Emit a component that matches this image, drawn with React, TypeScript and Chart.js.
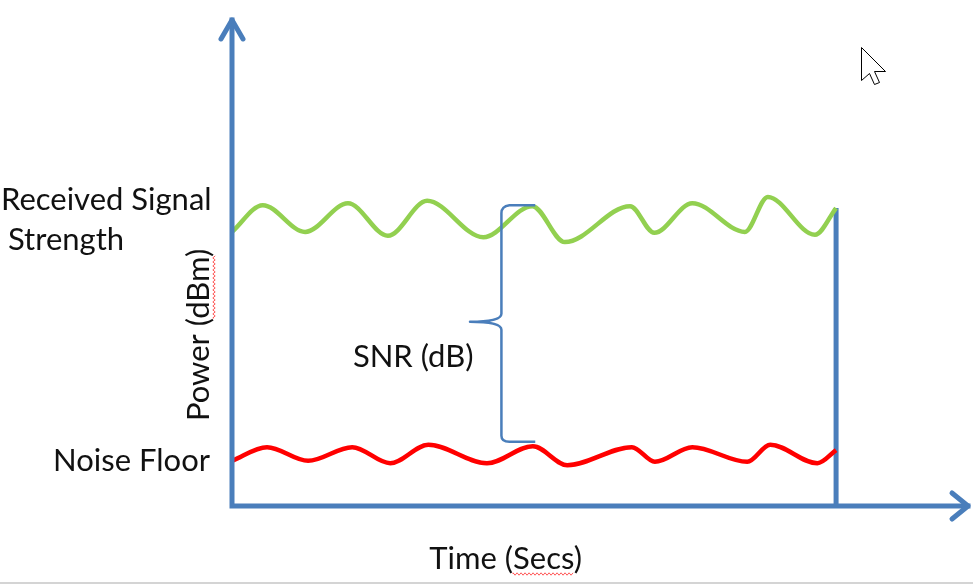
import { useEffect, useRef } from "react";
import { Chart, registerables } from "chart.js";

Chart.register(...registerables);

// Time (s) and power (arbitrary dBm scale)
const signalTime = [0, 0.51, 1.21, 1.92, 2.58, 3.23, 4.16, 4.97, 5.51, 6.59, 6.99, 7.62, 8.49, 8.87, 9.65, 10.0];
const signalPower = [56.4, 61.9, 56.4, 62.3, 55.6, 62.8, 55.3, 61.7, 54.3, 61.7, 56.2, 62.3, 56.4, 63.6, 55.8, 61.3];
const noiseTime = [0, 0.58, 1.26, 1.99, 2.62, 3.25, 4.22, 4.98, 5.55, 6.62, 7.0, 7.62, 8.53, 8.91, 9.69, 10.0];
const noisePower = [9.3, 12.1, 9.3, 12.1, 8.8, 12.6, 8.8, 12.3, 8.4, 12.1, 9.1, 12.1, 9.1, 12.6, 8.8, 11.5];
const markerTime = [10, 10];
const markerPower = [0, 61.3];

// SNR bracket (data units)
const bracketX = 4.46;
const bracketTop = 61.9;
const bracketBottom = 13.2;
const bracketMid = 37.9;
const bracketTipX = 3.94;
const bracketEndX = 5.02;

const labels = {
  signal1: "Received Signal",
  signal2: "Strength",
  noise: "Noise Floor",
  snr: "SNR (dB)",
  yTitle: "Power (dBm)",
  xTitle: "Time (Secs)",
};

const BLUE = "#4a7ebb";
const GREEN = "#92d050";
const RED = "#ff0000";
const FONT = "Lato";

function squiggle(ctx: CanvasRenderingContext2D, x0: number, x1: number, y: number) {
  ctx.beginPath();
  let up = true;
  ctx.moveTo(x0, y);
  for (let x = x0; x <= x1; x += 2) {
    ctx.lineTo(x, up ? y - 1.2 : y + 1.2);
    up = !up;
  }
  ctx.strokeStyle = "rgba(255,60,60,0.85)";
  ctx.lineWidth = 1;
  ctx.stroke();
}

const overlay = {
  id: "overlay",
  afterDatasetsDraw(chart: any) {
    const ctx: CanvasRenderingContext2D = chart.ctx;
    const xs = chart.scales.x;
    const ys = chart.scales.y;
    const ax = xs.getPixelForValue(0);
    const ay = ys.getPixelForValue(0);
    const top = chart.chartArea.top;
    const right = chart.chartArea.right;
    ctx.save();
    // axes
    ctx.strokeStyle = BLUE;
    ctx.lineWidth = 5;
    ctx.lineCap = "square";
    ctx.lineJoin = "miter";
    ctx.beginPath();
    ctx.moveTo(ax, top);
    ctx.lineTo(ax, ay);
    ctx.lineTo(right - 4, ay);
    ctx.stroke();
    // arrow heads
    ctx.lineCap = "round";
    ctx.lineJoin = "round";
    ctx.beginPath();
    ctx.moveTo(ax - 11, top + 19);
    ctx.lineTo(ax, top);
    ctx.lineTo(ax + 11, top + 19);
    ctx.stroke();
    ctx.beginPath();
    ctx.moveTo(right - 20, ay - 13);
    ctx.lineTo(right - 4, ay);
    ctx.lineTo(right - 20, ay + 13);
    ctx.stroke();

    // bracket
    const bx = xs.getPixelForValue(bracketX);
    const bt = ys.getPixelForValue(bracketTop);
    const bb = ys.getPixelForValue(bracketBottom);
    const bm = ys.getPixelForValue(bracketMid);
    const tipX = xs.getPixelForValue(bracketTipX);
    const endX = xs.getPixelForValue(bracketEndX);
    ctx.lineWidth = 2.5;
    ctx.lineCap = "butt";
    ctx.beginPath();
    ctx.moveTo(endX, bt);
    ctx.lineTo(bx + 8, bt);
    ctx.quadraticCurveTo(bx, bt + 1, bx, bt + 8);
    ctx.lineTo(bx, bm - 8);
    ctx.quadraticCurveTo(bx, bm, tipX, bm);
    ctx.quadraticCurveTo(bx, bm, bx, bm + 8);
    ctx.lineTo(bx, bb - 6);
    ctx.quadraticCurveTo(bx, bb, bx + 8, bb);
    ctx.lineTo(endX, bb);
    ctx.stroke();

    // texts
    ctx.fillStyle = "#111111";
    ctx.font = `31px ${FONT}`;
    ctx.textBaseline = "alphabetic";
    ctx.textAlign = "left";
    const sy = ys.getPixelForValue(signalPower[0]);
    ctx.fillText(labels.signal1, 1, sy - 22);
    ctx.fillText(labels.signal2, 8, sy + 18);
    ctx.textAlign = "right";
    const ny = ys.getPixelForValue(noisePower[0]);
    ctx.fillText(labels.noise, ax - 22, ny + 10);
    ctx.textAlign = "center";
    ctx.fillText(labels.snr, xs.getPixelForValue(3.0), ys.getPixelForValue(28.6));
    // x title
    const xtX = xs.getPixelForValue(4.53);
    const xtY = ay + 63;
    ctx.fillText(labels.xTitle, xtX, xtY);
    {
      const w = ctx.measureText(labels.xTitle).width;
      ctx.textAlign = "left";
      const x0 = xtX - w / 2 + ctx.measureText("Time (").width;
      const x1 = x0 + ctx.measureText("Secs").width;
      squiggle(ctx, x0, x1, xtY + 5);
    }
    // y title
    ctx.save();
    ctx.translate(ax - 23, ys.getPixelForValue(35.2));
    ctx.rotate(-Math.PI / 2);
    ctx.textAlign = "center";
    ctx.fillStyle = "#111111";
    ctx.fillText(labels.yTitle, 0, 0);
    {
      const w = ctx.measureText(labels.yTitle).width;
      ctx.textAlign = "left";
      const x0 = -w / 2 + ctx.measureText("Power (").width;
      const x1 = x0 + ctx.measureText("dBm").width;
      squiggle(ctx, x0, x1, 5);
    }
    ctx.restore();

    // mouse cursor
    ctx.beginPath();
    ctx.moveTo(861.5, 47.5);
    ctx.lineTo(861.5, 80.5);
    ctx.lineTo(869.5, 73.5);
    ctx.lineTo(874.5, 84.5);
    ctx.lineTo(879.5, 82.5);
    ctx.lineTo(874.5, 71.5);
    ctx.lineTo(885.5, 71.5);
    ctx.closePath();
    ctx.fillStyle = "#ffffff";
    ctx.fill();
    ctx.strokeStyle = "#000000";
    ctx.lineWidth = 1;
    ctx.stroke();

    // bottom border
    ctx.fillStyle = "#d4d4d4";
    ctx.fillRect(0, 582, chart.width, 2);
    ctx.restore();
  },
};

export default function App() {
  const ref = useRef<HTMLCanvasElement | null>(null);
  useEffect(() => {
    document.body.style.margin = "0";
    const canvas = ref.current!;
    const chart = new Chart(canvas, {
      type: "line",
      data: {
        datasets: [
          {
            label: "Received Signal Strength",
            data: signalTime.map((t, i) => ({ x: t, y: signalPower[i] })),
            borderColor: GREEN,
            borderWidth: 4.5,
            pointRadius: 0,
            cubicInterpolationMode: "monotone",
          },
          {
            label: "Noise Floor",
            data: noiseTime.map((t, i) => ({ x: t, y: noisePower[i] })),
            borderColor: RED,
            borderWidth: 4.5,
            pointRadius: 0,
            cubicInterpolationMode: "monotone",
          },
          {
            label: "marker",
            data: markerTime.map((t, i) => ({ x: t, y: markerPower[i] })),
            borderColor: BLUE,
            borderWidth: 5,
            pointRadius: 0,
          },
        ],
      },
      options: {
        animation: false,
        responsive: false,
        events: [],
        layout: { padding: { left: 232, right: 1, top: 20, bottom: 79 } },
        plugins: { legend: { display: false }, tooltip: { enabled: false } },
        scales: {
          x: { type: "linear", min: 0, max: 12.25, display: false },
          y: { type: "linear", min: 0, max: 100, display: false },
        },
        elements: { line: { capBezierPoints: true } },
      },
      plugins: [overlay],
    });
    return () => chart.destroy();
  }, []);
  return <canvas ref={ref} width={973} height={585} style={{ display: "block" }} />;
}
